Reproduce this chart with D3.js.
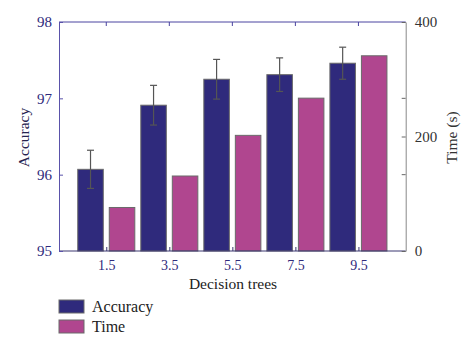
<!DOCTYPE html>
<html>
<head>
<meta charset="utf-8">
<script src="https://cdn.jsdelivr.net/npm/d3@7"></script>
<style>
  body { margin: 0; background: #fff; }
  svg text { font-family: "Liberation Serif", "DejaVu Serif", serif; }
</style>
</head>
<body>
<div id="chart"></div>
<script>
// data
const trees = [1.5, 3.5, 5.5, 7.5, 9.5]
const accuracy = [96.07, 96.91, 97.25, 97.31, 97.46]
const accErr = [0.25, 0.26, 0.26, 0.22, 0.21]
const time = [76, 131, 202, 267, 341]
const accTicks = [95, 96, 97, 98]
const timeTicks = [0, 200, 400]

const width = 474, height = 350
const plotL = 59, plotR = 405.7, plotT = 22, plotB = 251
const barW = 0.81

const svg = d3.select("#chart").append("svg")
    .attr("width", width)
    .attr("height", height)

const x = d3.scaleLinear().domain([0, 11]).range([plotL, plotR])
const yA = d3.scaleLinear().domain([95, 98]).range([plotB, plotT])
const yT = d3.scaleLinear().domain([0, 400]).range([plotB, plotT])

const navy = "#2f2a7c", magenta = "#b0468f"

// bars
svg.selectAll(".acc").data(accuracy).enter().append("rect")
    .attr("class", "acc")
    .attr("x", (d, i) => x(trees[i] - 0.5 - barW / 2))
    .attr("width", x(barW) - x(0))
    .attr("y", d => yA(d))
    .attr("height", d => yA(95) - yA(d))
    .attr("fill", navy)
    .attr("stroke", "#6a6a6a")
    .attr("stroke-width", 1)

svg.selectAll(".tim").data(time).enter().append("rect")
    .attr("class", "tim")
    .attr("x", (d, i) => x(trees[i] + 0.5 - barW / 2))
    .attr("width", x(barW) - x(0))
    .attr("y", d => yT(d))
    .attr("height", d => yT(0) - yT(d))
    .attr("fill", magenta)
    .attr("stroke", "#6a6a6a")
    .attr("stroke-width", 1)

// error bars
const err = svg.append("g").attr("stroke", "#555").attr("stroke-width", 1.2)
accuracy.forEach(function(d, i) {
    const cx = x(trees[i] - 0.5)
    err.append("line").attr("x1", cx).attr("x2", cx)
        .attr("y1", yA(d + accErr[i])).attr("y2", yA(d - accErr[i]))
    err.append("line").attr("x1", cx - 3.5).attr("x2", cx + 3.5)
        .attr("y1", yA(d + accErr[i])).attr("y2", yA(d + accErr[i]))
    err.append("line").attr("x1", cx - 3.5).attr("x2", cx + 3.5)
        .attr("y1", yA(d - accErr[i])).attr("y2", yA(d - accErr[i]))
})

// box lines
svg.append("line").attr("x1", plotL).attr("x2", plotR).attr("y1", plotT).attr("y2", plotT)
    .attr("stroke", "#4a44a0")
svg.append("line").attr("x1", plotL).attr("x2", plotR).attr("y1", plotB).attr("y2", plotB)
    .attr("stroke", "#3a3670")

// left axis
svg.append("g")
    .attr("transform", "translate(" + plotL + ",0)")
    .call(d3.axisLeft(yA).tickValues(accTicks).tickFormat(d3.format("d")).tickSizeInner(-4).tickSizeOuter(0).tickPadding(7))
    .call(g => g.select(".domain").attr("stroke", "#5a52aa"))
    .call(g => g.selectAll(".tick line").attr("stroke", "#5a52aa"))
    .call(g => g.selectAll("text").attr("fill", navy).attr("font-size", "15px")
        .style("font-family", "Liberation Serif"))

// mirrored ticks on right edge for accuracy
svg.append("g").selectAll("line").data(accTicks.slice(1, 3)).enter().append("line")
    .attr("x1", plotR - 4).attr("x2", plotR)
    .attr("y1", d => yA(d)).attr("y2", d => yA(d))
    .attr("stroke", "#666")

// right axis
svg.append("g")
    .attr("transform", "translate(" + plotR + ",0)")
    .call(d3.axisRight(yT).tickValues(timeTicks).tickSizeInner(-4).tickSizeOuter(0).tickPadding(9))
    .call(g => g.select(".domain").attr("stroke", "#888"))
    .call(g => g.selectAll(".tick line").attr("stroke", "#666"))
    .call(g => g.selectAll("text").attr("fill", "#333").attr("font-size", "15px")
        .style("font-family", "Liberation Serif"))

// bottom axis
svg.append("g")
    .attr("transform", "translate(0," + plotB + ")")
    .call(d3.axisBottom(x).tickValues(trees).tickFormat(d3.format(".1f")).tickSizeInner(-4).tickSizeOuter(0).tickPadding(9))
    .call(g => g.select(".domain").remove())
    .call(g => g.selectAll(".tick line").attr("stroke", "#3a3670"))
    .call(g => g.selectAll("text").attr("fill", navy).attr("font-size", "14px")
        .style("font-family", "Liberation Serif"))

// top mirrored ticks
svg.append("g").selectAll("line").data(trees).enter().append("line")
    .attr("x1", d => x(d)).attr("x2", d => x(d))
    .attr("y1", plotT).attr("y2", plotT + 4)
    .attr("stroke", "#4a44a0")

// axis titles
svg.append("text")
    .attr("x", 233).attr("y", 289)
    .attr("text-anchor", "middle")
    .attr("font-size", "15.5px")
    .attr("fill", "#222")
    .text("Decision trees")

svg.append("text")
    .attr("transform", "translate(29,137.5) rotate(-90)")
    .attr("text-anchor", "middle")
    .attr("font-size", "15.5px")
    .attr("fill", "#26234f")
    .text("Accuracy")

svg.append("text")
    .attr("transform", "translate(457,137.5) rotate(-90)")
    .attr("text-anchor", "middle")
    .attr("font-size", "15.5px")
    .attr("fill", "#333")
    .text("Time (s)")

// legend
const legend = [["Accuracy", navy], ["Time", magenta]]
const lg = svg.append("g")
legend.forEach(function(d, i) {
    lg.append("rect")
        .attr("x", 59).attr("y", 300 + i * 20)
        .attr("width", 25).attr("height", 13)
        .attr("fill", d[1])
        .attr("stroke", "#6a6a6a")
    lg.append("text")
        .attr("x", 92).attr("y", 312 + i * 20)
        .attr("font-size", "16px")
        .attr("fill", "#222")
        .text(d[0])
})
</script>
</body>
</html>
